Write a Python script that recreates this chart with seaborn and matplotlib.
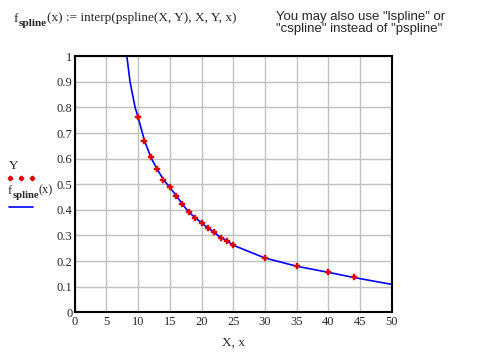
import matplotlib
matplotlib.use("Agg")
import matplotlib.pyplot as plt
from matplotlib.lines import Line2D
import seaborn as sns
import pandas as pd

# data points (X, Y)
X = [10, 11, 12, 13, 14, 15, 16, 17, 18, 19, 20, 21, 22, 23, 24, 25, 30, 35, 40, 44]
Y = [0.762, 0.671, 0.606, 0.559, 0.518, 0.488, 0.456, 0.422, 0.391, 0.370,
     0.349, 0.330, 0.312, 0.292, 0.280, 0.262, 0.212, 0.180, 0.156, 0.136]

# extra points of the spline curve outside the data range
curve_left_x = [8.23, 8.73, 9.53]
curve_left_y = [1.0, 0.9, 0.8]
curve_right_x = [47.1, 50]
curve_right_y = [0.122, 0.109]

x_ticks = list(range(0, 55, 5))
y_ticks = [0, 0.1, 0.2, 0.3, 0.4, 0.5, 0.6, 0.7, 0.8, 0.9, 1]
y_labels = ["0", "0.1", "0.2", "0.3", "0.4", "0.5", "0.6", "0.7", "0.8", "0.9", "1"]

pts = pd.DataFrame({"x": X, "y": Y})
curve = pd.DataFrame({"x": curve_left_x + X + curve_right_x,
                      "y": curve_left_y + Y + curve_right_y})

sns.set_style("white")
plt.rcParams["font.family"] = ["Liberation Serif", "DejaVu Serif"]

fig = plt.figure(figsize=(4.92, 3.56), dpi=100)
ax = fig.add_axes([0.1518, 0.1228, 0.6444, 0.7191])

sns.lineplot(data=curve, x="x", y="y", ax=ax, color="#0000ff", lw=1.2, sort=True)
sns.scatterplot(data=pts, x="x", y="y", ax=ax, marker="P", s=13, color="#e00000",
                edgecolor="#e00000", linewidth=0.3, zorder=3)

ax.set_xlim(0, 50)
ax.set_ylim(0, 1)
ax.set_xticks(x_ticks)
ax.set_yticks(y_ticks)
ax.set_yticklabels(y_labels)
ax.grid(True, color="#c0c0c0", lw=1)
ax.set_axisbelow(True)
ax.tick_params(length=0, labelsize=9)
ax.tick_params(axis="y", pad=1.5)
ax.tick_params(axis="x", pad=3)
for s in ax.spines.values():
    s.set_color("black")
    s.set_linewidth(1.5)
ax.set_xlabel("X, x", fontsize=9.5, labelpad=6)
ax.set_ylabel("")

renderer = fig.canvas.get_renderer()


def fspline(x0, y0, rest, size=9.5):
    # "f" + bold subscript "spline" + rest, placed piece by piece (pixel coords)
    W, H = 492, 356
    t1 = fig.text(x0 / W, 1 - y0 / H, "f", fontsize=size, va="baseline", ha="left")
    x1 = t1.get_window_extent(renderer).x1
    t2 = fig.text(x1 / W, 1 - (y0 + 4) / H, "spline", fontsize=size * 0.85,
                  fontweight="bold", va="baseline", ha="left")
    x2 = t2.get_window_extent(renderer).x1
    fig.text(x2 / W, 1 - (y0 - 1) / H, rest, fontsize=size, va="baseline", ha="left")


# header texts
fspline(14, 22, "(x) := interp(pspline(X, Y), X, Y, x)")
fig.text(276 / 492, 1 - 23 / 356, "You may also use \"lspline\" or\n\"cspline\" instead of \"pspline\"",
         fontsize=9.5, va="center", ha="left", family=["Liberation Sans", "DejaVu Sans"],
         linespacing=1.0)

# Mathcad style legend at the left
fig.text(14 / 492, 1 - 166 / 356, "Y", fontsize=9.5, va="center", ha="center")
for mx in [10, 21, 32]:
    fig.add_artist(Line2D([mx / 492], [1 - 178 / 356], marker="P", color="#e00000",
                          markersize=3, lw=0, transform=fig.transFigure))
fspline(8, 194, "(x)", size=9)
fig.add_artist(Line2D([9 / 492, 33 / 492], [1 - 207.5 / 356] * 2, color="#0000ff",
                      lw=1.2, transform=fig.transFigure))

fig.savefig("out.png", dpi=100)
